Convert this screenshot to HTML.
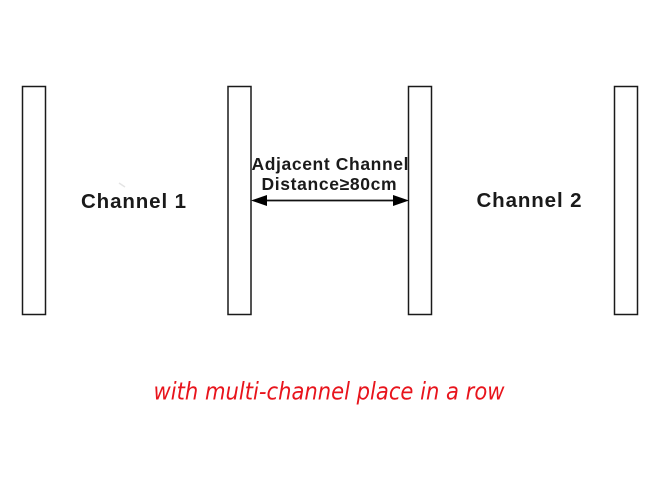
<!DOCTYPE html>
<html>
<head>
<meta charset="utf-8">
<style>
html,body{margin:0;padding:0;background:#fff;width:650px;height:500px;overflow:hidden}
svg{display:block}
</style>
</head>
<body>
<svg width="650" height="500" viewBox="0 0 650 500" xmlns="http://www.w3.org/2000/svg">
<rect width="650" height="500" fill="#fff"/>
<g fill="#fff" stroke="#1a1a1a" stroke-width="1.5">
<rect x="22.5" y="86.5" width="23" height="228"/>
<rect x="228" y="86.5" width="23" height="228"/>
<rect x="408.5" y="86.5" width="23" height="228"/>
<rect x="614.5" y="86.5" width="23" height="228"/>
</g>
<line x1="119" y1="183" x2="125" y2="187" stroke="#e4e4e4" stroke-width="1.5"/>
<line x1="264" y1="200.5" x2="396" y2="200.5" stroke="#111" stroke-width="1.8"/>
<polygon points="251,200.5 267,195 267,206" fill="#000"/>
<polygon points="409,200.5 393,195 393,206" fill="#000"/>
<g font-family="'Liberation Sans',sans-serif" font-weight="bold" fill="#1a1a1a" text-anchor="middle">
<text x="133.5" y="208" font-size="20.5" textLength="105" lengthAdjust="spacing">Channel 1</text>
<text x="529" y="207" font-size="20.5" textLength="105" lengthAdjust="spacing">Channel 2</text>
<text x="330" y="170" font-size="17.5" textLength="157" lengthAdjust="spacing">Adjacent Channel</text>
<text x="329" y="190" font-size="17.5" textLength="135" lengthAdjust="spacing">Distance≥80cm</text>
</g>
<text x="329" y="399.5" font-family="'DejaVu Sans',sans-serif" font-style="italic" font-size="24" fill="#e8141c" text-anchor="middle" textLength="351" lengthAdjust="spacingAndGlyphs">with multi-channel place in a row</text>
</svg>
</body>
</html>
